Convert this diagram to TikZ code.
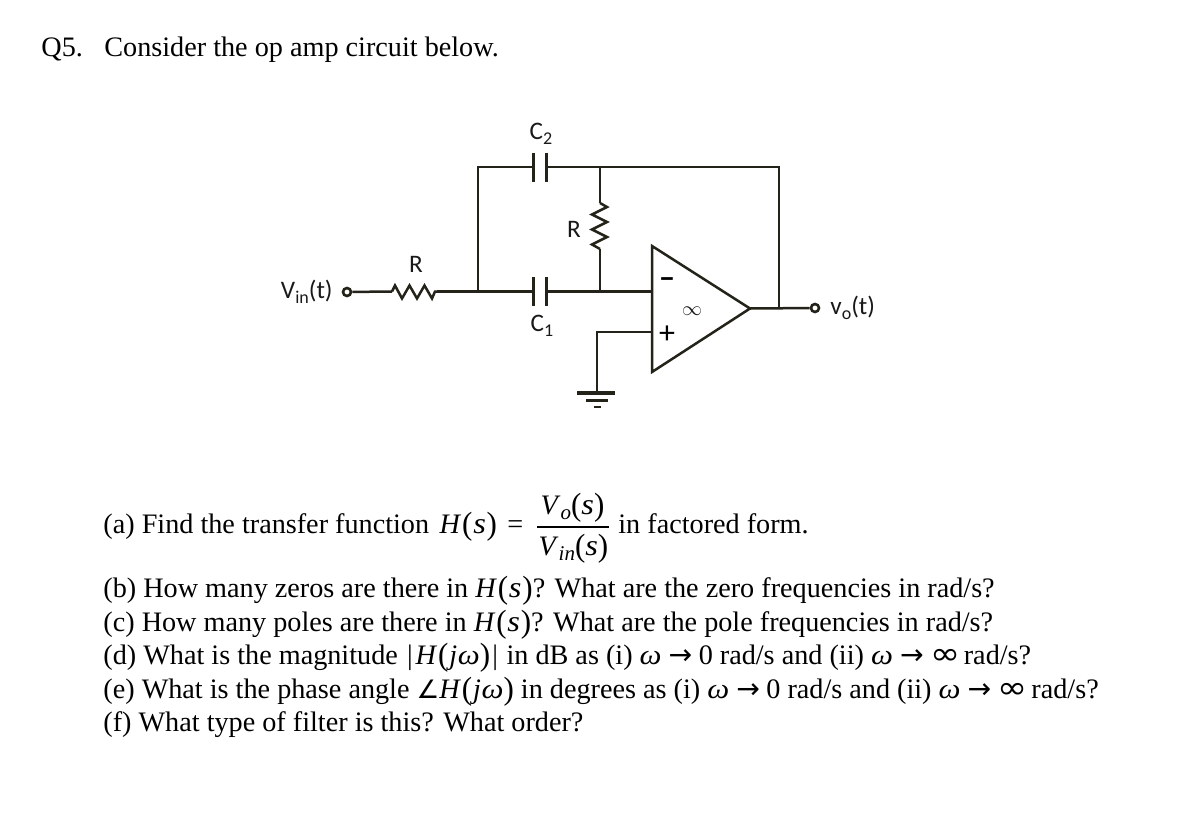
\documentclass[tikz,border=0pt]{standalone}
\usepackage{fontspec}
\usepackage{graphicx}
\setmainfont{Liberation Serif}
\newfontfamily\lblfont{Carlito}
\newfontfamily\symf{DejaVu Sans}
\newcommand{\mv}[1]{\textit{#1}}
\newcommand{\lp}{\raisebox{-.1ex}{\scalebox{1.1}[1.14]{(}}}
\newcommand{\rp}{\raisebox{-.1ex}{\scalebox{1.1}[1.14]{)}}}
\newcommand{\ms}{\scalebox{1.15}[1.05]{\mv{s}}}
\newcommand{\mw}{\scalebox{1.1}[1]{\mv{ω}}}
\newcommand{\Hs}{\mv{H}\hspace{.03em}\lp\hspace{.03em}\ms\hspace{.03em}\rp}
\newcommand{\Hj}{\mv{H}\hspace{.03em}\lp\hspace{.03em}\mv{j}\hspace{.03em}\mw\rp}
\newcommand{\arr}{\hspace{.25em}{\symf →}\hspace{.23em}}
\newcommand{\toz}{\mw\arr 0}
\newcommand{\toi}{\mw\arr {\symf\scalebox{1.28}[1.1]{∞}}\hspace{-.12em}}
\newcommand{\sbs}[1]{\raisebox{-.45ex}{\fontsize{9}{9}\selectfont #1}}
\newcommand{\msub}[1]{\raisebox{-.4ex}{\fontsize{10.5}{10.5}\selectfont\mv{#1}}}
\tikzset{
  x=0.5pt,y=-0.5pt,
  wire/.style={line width=1.25pt,draw={rgb,255:red,35;green,35;blue,25},line join=miter},
  terminal/.style={circle,draw={rgb,255:red,35;green,35;blue,25},line width=1.3pt,fill=white,minimum size=4pt,inner sep=0pt},
  lbl/.style={font=\lblfont\fontsize{12.6}{14}\selectfont,text={rgb,255:red,25;green,25;blue,25},inner sep=0pt},
  body/.style={font=\fontsize{14.1}{16}\selectfont,anchor=base west,inner sep=0pt,text=black},
  frac/.style={font=\fontsize{14.1}{16}\selectfont,anchor=base,inner sep=0pt,text=black},
  minussign/.style={font=\lblfont\bfseries\fontsize{15}{15}\selectfont,inner sep=0pt,text=black},
  plussign/.style={font=\lblfont\fontsize{16}{16}\selectfont,inner sep=0pt,text=black},
}
\begin{document}
\begin{tikzpicture}
\useasboundingbox (0,0) rectangle (1204,824);
% text
\node[body] (q) at (41,57) {Q5.};
\node[body] (qt) at (104,57) {Consider the op amp circuit below.};
\node[body] (a) at (103,533) {(a) Find the transfer function\hspace{.12em} \Hs};
\node[body] (eq) at (507,533) {=};
\node[frac] (fn) at (572.5,514) {\mv{V}\msub{o}\lp\ms\rp};
\node[frac] (fd) at (573.5,555) {\mv{V}\msub{in}\lp\ms\rp};
\coordinate (fl) at (537,527);
\coordinate (fr) at (609,527);
\draw[line width=0.7pt] (fl) -- (fr);
\node[body] (a2) at (618,533) {in factored form.};
\node[body] (b) at (103,597) {(b) How many zeros are there in \Hs? What are the zero frequencies in rad/s?};
\node[body] (c) at (103,631) {(c) How many poles are there in \Hs? What are the pole frequencies in rad/s?};
\node[body] (d) at (103,664) {(d) What is the magnitude\hspace{.08em} |\hspace{.1em}\Hj\hspace{.08em}|\hspace{.05em} in dB as (i) \toz{} rad/s and (ii) \toi{} rad/s?};
\node[body] (e) at (103,698) {(e) What is the phase angle {\symf\scalebox{.9}{∠}}\Hj{} in degrees as (i) \toz{} rad/s and (ii) \toi{} rad/s?};
\node[body] (f) at (103,731) {(f) What type of filter is this? What order?};
% circuit coordinates
\node[terminal] (vin) at (347,292) {};
\node[terminal] (vout) at (815,308) {};
\coordinate (r1a) at (392,291.5);
\coordinate (r1b) at (437,291.5);
\coordinate (j1) at (478,291.5);
\coordinate (j2) at (478,167);
\coordinate (c1l) at (533,291.5);
\coordinate (c1r) at (546,291.5);
\coordinate (c2l) at (533,167);
\coordinate (c2r) at (546,167);
\coordinate (n1) at (600,291.5);
\coordinate (n2) at (600,167);
\coordinate (r2a) at (600,203);
\coordinate (r2b) at (600,249);
\coordinate (top) at (779,167);
\coordinate (fbk) at (779,308.5);
\coordinate (minus) at (652,291.5);
\coordinate (plus) at (652,332);
\coordinate (gc) at (597,332);
\coordinate (g) at (597,393);
\coordinate (oa1) at (652,246);
\coordinate (oa2) at (652,372);
\coordinate (oa3) at (750,308.5);
% wires
\draw[wire] (vin) -- (r1a);
\draw[wire] (r1a) -- ++(3,-6) -- ++(7,13) -- ++(7.5,-13) -- ++(7.5,13) -- ++(7.5,-13) -- ++(7.5,13) -- ++(3,-7) -- (r1b);
\draw[wire] (r1b) -- (j1) -- (c1l);
\draw[wire] (j1) -- (j2) -- (c2l);
\draw[wire] (c1r) -- (n1) -- (minus);
\draw[wire] (c2r) -- (top) -- (fbk);
\draw[wire] (n2) -- (r2a);
\draw[wire] (r2a) -- ++(7,4) -- ++(-15,7.5) -- ++(15,7.5) -- ++(-15,7.5) -- ++(15,7.5) -- ++(-15,7.5) -- ++(8,4.5) -- (r2b);
\draw[wire] (r2b) -- (n1);
\foreach \p in {c1l,c1r,c2l,c2r} \draw[wire,line width=1.5pt] (\p) ++(0,-14.5) -- ++(0,29);
\draw[wire] (oa3) -- (vout);
\draw[wire] (plus) -- (gc) -- (g);
\draw[wire,line width=1.6pt] (g) ++(-20,0) -- ++(38,0);
\draw[wire,line width=1.2pt] (g) ++(-11,7.5) -- ++(22,0);
\draw[wire,line width=1.4pt] (g) ++(-3,14) -- ++(7,0);
\draw[wire,fill=white] (oa1) -- (oa3) -- (oa2) -- cycle;
% labels
\node[lbl] (lc2) at (541,134) {C\sbs{2}};
\node[lbl] (lc1) at (542,326) {C\sbs{1}};
\node[lbl] (lr1) at (416,264) {R};
\node[lbl] (lr2) at (574,229) {R};
\node[lbl,anchor=east] (lvin) at (333,292) {V\sbs{in}(t)};
\node[lbl,anchor=west] (lvo) at (830,308) {v\sbs{o}(t)};
\node[minussign] (sm) at (667,283) {−};
\node[plussign] (sp) at (667,335) {+};
\node[lbl,font=\fontsize{10}{10}\selectfont] (inf) at (692,311) {$\infty$};
\end{tikzpicture}
\end{document}
